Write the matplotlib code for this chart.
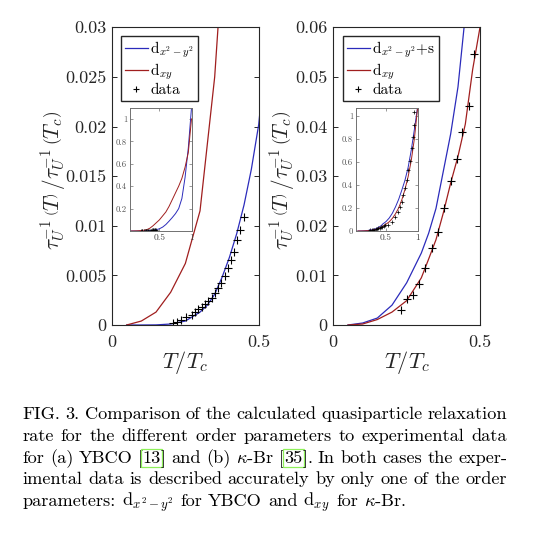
import matplotlib
matplotlib.use('Agg')
import matplotlib.pyplot as plt

plt.rcParams.update({
    'font.family': 'serif',
    'font.serif': ['cmr10'],
    'mathtext.fontset': 'cm',
    'axes.unicode_minus': False,
    'axes.formatter.use_mathtext': True,
})

# ---------------- data ----------------
# panel (a) YBCO
xa_curve = [0.05, 0.1, 0.15, 0.2, 0.25, 0.3, 0.325, 0.35, 0.375, 0.4, 0.425, 0.45, 0.475, 0.5,
            0.55, 0.6, 0.65, 0.7, 0.75, 0.8, 0.85, 0.9, 0.95, 1.0]
ya_dx2y2 = [0.0, 0.0, 0.00001, 0.0001, 0.0004, 0.0013, 0.0020, 0.0031, 0.0048, 0.0068, 0.0092, 0.0121, 0.0157, 0.0202,
            0.035, 0.058, 0.088, 0.12, 0.155, 0.2, 0.29, 0.48, 0.74, 1.1]
xa_dxy = [0.05, 0.1, 0.15, 0.2, 0.25, 0.3, 0.35, 0.4, 0.5, 0.6, 0.65, 0.7, 0.75, 0.8, 0.85, 0.9, 0.95, 1.0]
ya_dxy = [0.0, 0.0004, 0.0013, 0.0033, 0.0062, 0.0115, 0.025, 0.047, 0.10, 0.17, 0.22, 0.28, 0.34, 0.40, 0.47, 0.57, 0.70, 1.0]
xa_data = [0.207, 0.2205, 0.234, 0.252, 0.2716, 0.283, 0.294, 0.3057, 0.317, 0.328, 0.340, 0.351, 0.360,
           0.3715, 0.385, 0.394, 0.4045, 0.416, 0.427, 0.436, 0.451]
ya_data = [0.00023, 0.0003, 0.0005, 0.00078, 0.0010, 0.0013, 0.0016, 0.0018, 0.0021, 0.0024, 0.0027, 0.0032, 0.0037,
           0.0042, 0.0049, 0.0057, 0.0066, 0.0074, 0.0086, 0.0096, 0.0109]

# panel (b) kappa-Br
xb_curve = [0.05, 0.1, 0.15, 0.2, 0.25, 0.3, 0.325, 0.35, 0.375, 0.4, 0.425, 0.45, 0.475, 0.5,
            0.55, 0.6, 0.65, 0.7, 0.75, 0.8, 0.85, 0.9, 0.95, 1.0]
yb_dx2y2s = [0.0, 0.0004, 0.0014, 0.0040, 0.0085, 0.0145, 0.0185, 0.0235, 0.0310, 0.0385, 0.0480, 0.0625, 0.072, 0.083,
             0.113, 0.155, 0.21, 0.275, 0.355, 0.44, 0.55, 0.70, 0.88, 1.07]
yb_dxy = [0.0, 0.0002, 0.0011, 0.0026, 0.0049, 0.0095, 0.0133, 0.0172, 0.0226, 0.0286, 0.0340, 0.0405, 0.0515, 0.0600,
          0.080, 0.110, 0.150, 0.200, 0.270, 0.360, 0.470, 0.610, 0.800, 1.060]
xb_data = [0.2295, 0.250, 0.2727, 0.293, 0.3125, 0.335, 0.356, 0.378, 0.400, 0.4205, 0.440, 0.4625, 0.4807,
           0.535, 0.59, 0.64, 0.695, 0.72, 0.75, 0.775, 0.80, 0.83, 0.855, 0.88, 0.91, 0.93, 0.94, 0.95]
yb_data = [0.0030, 0.0052, 0.0060, 0.0083, 0.0114, 0.0156, 0.0187, 0.0235, 0.0290, 0.0334, 0.0388, 0.0442, 0.0547,
           0.052, 0.08, 0.124, 0.167, 0.21, 0.25, 0.31, 0.37, 0.44, 0.53, 0.61, 0.72, 0.82, 0.92, 1.03]

a_ticks = [0, 0.005, 0.01, 0.015, 0.02, 0.025, 0.03]
a_ticklabels = ['0', '0.005', '0.01', '0.015', '0.02', '0.025', '0.03']
b_ticks = [0, 0.01, 0.02, 0.03, 0.04, 0.05, 0.06]
b_ticklabels = ['0', '0.01', '0.02', '0.03', '0.04', '0.05', '0.06']
x_ticks = [0, 0.5]
x_ticklabels = ['0', '0.5']
ins_a_yticks = [0.2, 0.4, 0.6, 0.8, 1.0]
ins_a_ylabels = ['0.2', '0.4', '0.6', '0.8', '1']
ins_b_yticks = [0, 0.2, 0.4, 0.6, 0.8, 1.0]
ins_b_ylabels = ['0', '0.2', '0.4', '0.6', '0.8', '1']
ins_xticks = [0.5, 1.0]
ins_xlabels = ['0.5', '1']

label_a1 = r'$\mathrm{d}_{x^2-y^2}$'
label_b1 = r'$\mathrm{d}_{x^2-y^2}$+s'
label_2 = r'$\mathrm{d}_{xy}$'
label_3 = 'data'

BLUE = '#2b2bbb'
RED = '#a01e1e'
DARK = '#262626'
GRAY = '#555555'

W, H = 549, 554
fig = plt.figure(figsize=(W / 100, H / 100), dpi=100)
renderer = fig.canvas.get_renderer()


def rect(x0, y0, x1, y1):
    return [x0 / W, 1 - y1 / H, (x1 - x0) / W, (y1 - y0) / H]


def style_main(ax):
    for s in ax.spines.values():
        s.set_color(DARK)
        s.set_linewidth(0.8)
    ax.tick_params(direction='in', top=True, right=True, length=3.5, width=0.7,
                   colors=DARK, labelsize=13, pad=4)
    ax.tick_params(axis='x', pad=7)


def style_inset(ax):
    for s in ax.spines.values():
        s.set_color('#707070')
        s.set_linewidth(0.7)
    ax.tick_params(direction='in', top=True, right=True, length=2, width=0.5,
                   colors='#707070', labelcolor=GRAY, labelsize=6.3, pad=2)
    ax.tick_params(axis='x', labelsize=6.8, labelcolor='#404040')


ylab = r'$\tau_U^{-1}\,\left(T\right)\,/\tau_U^{-1}\,\left(T_c\right)$'
xlab = r'$T/T_c$'
leg_kw = dict(loc='upper left', bbox_transform=fig.transFigure, borderaxespad=0, fancybox=False,
              framealpha=1, edgecolor=DARK, fontsize=11, handlelength=1.55, handletextpad=0.12,
              labelspacing=0.08, borderpad=0.25, numpoints=1, markerscale=0.75)


def axis_labels(yx, xx):
    fig.text(yx / W, 1 - 180 / H, ylab, fontsize=15.3, rotation=90, ha='center', va='center', color=DARK)
    fig.text(xx / W, 1 - 363 / H, xlab, fontsize=16, ha='center', va='center', color=DARK)


# ---- panel a ----
axa = fig.add_axes(rect(112, 27.3, 258.7, 325))
axa.plot(xa_curve, ya_dx2y2, color=BLUE, lw=0.9, label=label_a1)
axa.plot(xa_dxy, ya_dxy, color=RED, lw=0.9, label=label_2)
axa.plot(xa_data, ya_data, '+', color='black', ms=5.5, mew=0.8, label=label_3)
axa.set_xlim(0, 0.5)
axa.set_ylim(0, 0.03)
axa.set_yticks(a_ticks)
axa.set_yticklabels(a_ticklabels)
axa.set_xticks(x_ticks)
axa.set_xticklabels(x_ticklabels)
style_main(axa)
axa.legend(bbox_to_anchor=(120.7 / W, 1 - 36 / H), **leg_kw)
axis_labels(53.5, 185.3)

# ---- panel b ----
axb = fig.add_axes(rect(333.3, 27.3, 480, 325))
axb.plot(xb_curve, yb_dx2y2s, color=BLUE, lw=0.9, label=label_b1)
axb.plot(xb_curve, yb_dxy, color=RED, lw=0.9, label=label_2)
axb.plot(xb_data, yb_data, '+', color='black', ms=5.5, mew=0.8, label=label_3)
axb.set_xlim(0, 0.5)
axb.set_ylim(0, 0.06)
axb.set_yticks(b_ticks)
axb.set_yticklabels(b_ticklabels)
axb.set_xticks(x_ticks)
axb.set_xticklabels(x_ticklabels)
style_main(axb)
axb.legend(bbox_to_anchor=(342.7 / W, 1 - 36 / H), **leg_kw)
axis_labels(282.5, 406.7)

# ---- insets ----
ia = fig.add_axes(rect(130, 107.7, 191.5, 231), zorder=5)
ia.plot(xa_curve, ya_dx2y2, color=BLUE, lw=0.7)
ia.plot(xa_dxy, ya_dxy, color=RED, lw=0.7)
ia.plot(xa_data, ya_data, '+', color='black', ms=2.5, mew=0.5)
ia.set_yticks(ins_a_yticks, labels=ins_a_ylabels)
ia.set_xticks(ins_xticks, labels=ins_xlabels)
ia.set_xlim(0.04, 1.0)
ia.set_ylim(0, 1.1)
style_inset(ia)

ib = fig.add_axes(rect(356, 107.7, 417.5, 231), zorder=5)
ib.plot(xb_curve, yb_dx2y2s, color=BLUE, lw=0.7)
ib.plot(xb_curve, yb_dxy, color=RED, lw=0.7)
ib.plot(xb_data, yb_data, '+', color='black', ms=2.5, mew=0.5)
ib.set_yticks(ins_b_yticks, labels=ins_b_ylabels)
ib.set_xticks(ins_xticks, labels=ins_xlabels)
ib.set_xlim(0.02, 1.0)
ib.set_ylim(0, 1.07)
style_inset(ib)

# ---------------- caption ----------------
X0, X1 = 22.7, 507.0
ref_line = r'parameters: $\mathrm{d}_{x^2-y^2}$ for YBCO and $\mathrm{d}_{xy}$ for $\kappa$-Br.'
t = fig.text(0, 0, ref_line, fontsize=10)
w10 = t.get_window_extent(renderer).width
t.remove()
FS = 10 * (407.3 - X0) / w10

box = dict(boxstyle='square,pad=0.08', facecolor='none', edgecolor='#8ef05a', linewidth=0.9)
lines = [
    ([[('FIG.', 0)], [('3.', 0)], [('Comparison', 0)], [('of', 0)], [('the', 0)], [('calculated', 0)],
      [('quasiparticle', 0)], [('relaxation', 0)]], True),
    ([[('rate', 0)], [('for', 0)], [('the', 0)], [('different', 0)], [('order', 0)], [('parameters', 0)],
      [('to', 0)], [('experimental', 0)], [('data', 0)]], True),
    ([[('for', 0)], [('(a)', 0)], [('YBCO', 0)], [('[', 0), ('13', 1), (']', 0)], [('and', 0)], [('(b)', 0)],
      [(r'$\kappa$-Br', 0)], [('[', 0), ('35', 1), (']', 0), ('.', 0)], [('In', 0)], [('both', 0)], [('cases', 0)],
      [('the', 0)], [('exper-', 0)]], True),
    ([[('imental', 0)], [('data', 0)], [('is', 0)], [('described', 0)], [('accurately', 0)], [('by', 0)],
      [('only', 0)], [('one', 0)], [('of', 0)], [('the', 0)], [('order', 0)]], True),
    ([[('parameters:', 0)], [(r'$\mathrm{d}_{x^2-y^2}$', 0)], [('for', 0)], [('YBCO', 0)], [('and', 0)],
      [(r'$\mathrm{d}_{xy}$', 0)], [('for', 0)], [(r'$\kappa$-Br.', 0)]], False),
]
baseline0 = 419.3
step = 21.7
space = FS * 100 / 72 * 0.333
for i, (words, justify) in enumerate(lines):
    y = 1 - (baseline0 + i * step) / H
    objs = []
    widths = []
    for w in words:
        pieces = []
        ws = 0
        for s, boxed in w:
            tt = fig.text(0, y, s, fontsize=FS, va='baseline', ha='left', color='black',
                          bbox=box if boxed else None)
            wd = tt.get_window_extent(renderer).width
            pieces.append((tt, wd))
            ws += wd
        objs.append(pieces)
        widths.append(ws)
    if justify:
        gap = (X1 - X0 - sum(widths)) / (len(words) - 1)
    else:
        gap = space
    x = X0
    for pieces in objs:
        for tt, wd in pieces:
            tt.set_x(x / W)
            x += wd
        x += gap

fig.savefig('out.png', dpi=100)
